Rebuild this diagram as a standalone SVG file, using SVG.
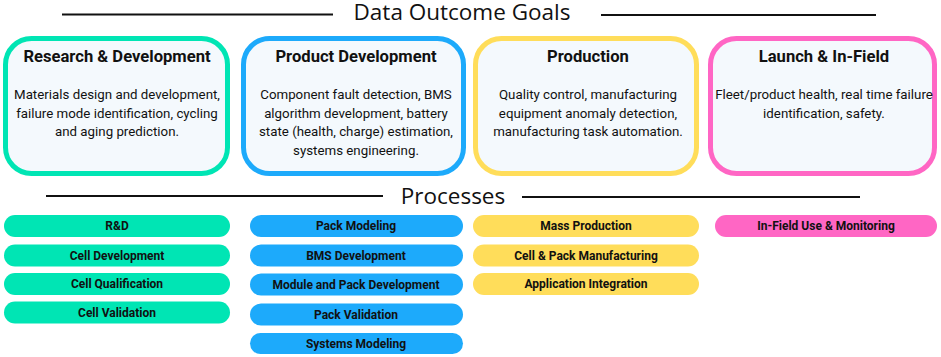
<svg xmlns="http://www.w3.org/2000/svg" width="941" height="357" viewBox="0 0 941 357">
<style>
.hd{font-family:"Open Sans","Liberation Sans",sans-serif;font-size:22.5px;fill:#111;text-anchor:middle}
.rule{stroke:#111;stroke-width:2}
.box{fill:#F4F9FD;stroke-width:5}
.bt{font-family:Roboto,"Liberation Sans",sans-serif;font-weight:bold;font-size:16.6px;fill:#111;text-anchor:middle}
.bd{font-family:Roboto,"Liberation Sans",sans-serif;font-size:13.3px;fill:#111;text-anchor:middle}
.pl{font-family:Roboto,"Liberation Sans",sans-serif;font-weight:bold;font-size:12px;fill:#111;text-anchor:middle}
.teal{fill:#00E5B4}.blue{fill:#1DAAFB}.yel{fill:#FFDD5A}.pink{fill:#FF66C4}
</style>
<rect width="941" height="357" fill="#fff"/>
<g id="headings">
<line class="rule" x1="62" y1="14.5" x2="333" y2="14.5"/>
<line class="rule" x1="601" y1="15" x2="876" y2="15"/>
<text class="hd" x="462" y="20">Data Outcome Goals</text>
<line class="rule" x1="46" y1="196" x2="383" y2="196"/>
<line class="rule" x1="522" y1="197" x2="860" y2="197"/>
<text class="hd" x="453" y="204">Processes</text>
</g>
<g id="goal-rd">
<rect class="box" x="5.5" y="38.5" width="222" height="135" rx="26" stroke="#00E5B4"/>
<text class="bt" x="117" y="62">Research &amp; Development</text>
<text class="bd" x="117" y="99">Materials design and development,</text>
<text class="bd" x="117" y="117.5">failure mode identification, cycling</text>
<text class="bd" x="117" y="136">and aging prediction.</text>
</g>
<g id="goal-pd">
<rect class="box" x="243.5" y="38.5" width="220" height="135" rx="26" stroke="#1DAAFB"/>
<text class="bt" x="356" y="62">Product Development</text>
<text class="bd" x="356" y="99">Component fault detection, BMS</text>
<text class="bd" x="356" y="117.5">algorithm development, battery</text>
<text class="bd" x="356" y="136">state (health, charge) estimation,</text>
<text class="bd" x="356" y="154.5">systems engineering.</text>
</g>
<g id="goal-prod">
<rect class="box" x="475.5" y="38.5" width="221" height="135" rx="26" stroke="#FFDD5A"/>
<text class="bt" x="588" y="62">Production</text>
<text class="bd" x="588" y="99">Quality control, manufacturing</text>
<text class="bd" x="588" y="117.5">equipment anomaly detection,</text>
<text class="bd" x="588" y="136">manufacturing task automation.</text>
</g>
<g id="goal-launch">
<rect class="box" x="710.5" y="38.5" width="224" height="135" rx="26" stroke="#FF66C4"/>
<text class="bt" x="824" y="62">Launch &amp; In-Field</text>
<text class="bd" x="824" y="99">Fleet/product health, real time failure</text>
<text class="bd" x="824" y="117.5">identification, safety.</text>
</g>
<g id="proc-rd">
<rect class="teal" x="4" y="215" width="226" height="22" rx="11"/><text class="pl" x="117" y="230">R&amp;D</text>
</g>
<g id="proc-cell-dev">
<rect class="teal" x="4" y="244.5" width="226" height="22" rx="11"/><text class="pl" x="117" y="259.5">Cell Development</text>
</g>
<g id="proc-cell-qual">
<rect class="teal" x="4" y="273" width="226" height="22" rx="11"/><text class="pl" x="117" y="288">Cell Qualification</text>
</g>
<g id="proc-cell-val">
<rect class="teal" x="4" y="301.5" width="226" height="22" rx="11"/><text class="pl" x="117" y="316.5">Cell Validation</text>
</g>
<g id="proc-pack-model">
<rect class="blue" x="250" y="215" width="213" height="22" rx="11"/><text class="pl" x="356" y="230">Pack Modeling</text>
</g>
<g id="proc-bms">
<rect class="blue" x="250" y="244.5" width="213" height="22" rx="11"/><text class="pl" x="356" y="259.5">BMS Development</text>
</g>
<g id="proc-module">
<rect class="blue" x="250" y="273.5" width="213" height="22" rx="11"/><text class="pl" x="356" y="288.5">Module and Pack Development</text>
</g>
<g id="proc-pack-val">
<rect class="blue" x="250" y="303.5" width="213" height="22" rx="11"/><text class="pl" x="356" y="318.5">Pack Validation</text>
</g>
<g id="proc-sys">
<rect class="blue" x="250" y="333" width="213" height="21" rx="10.5"/><text class="pl" x="356" y="347.5">Systems Modeling</text>
</g>
<g id="proc-mass">
<rect class="yel" x="473" y="215" width="226" height="22" rx="11"/><text class="pl" x="586" y="230">Mass Production</text>
</g>
<g id="proc-manuf">
<rect class="yel" x="473" y="244.5" width="226" height="22" rx="11"/><text class="pl" x="586" y="259.5">Cell &amp; Pack Manufacturing</text>
</g>
<g id="proc-app">
<rect class="yel" x="473" y="273" width="226" height="22" rx="11"/><text class="pl" x="586" y="288">Application Integration</text>
</g>
<g id="proc-infield">
<rect class="pink" x="715" y="215" width="222" height="22" rx="11"/><text class="pl" x="826" y="230">In-Field Use &amp; Monitoring</text>
</g>
<g id="connectors"/>
</svg>
